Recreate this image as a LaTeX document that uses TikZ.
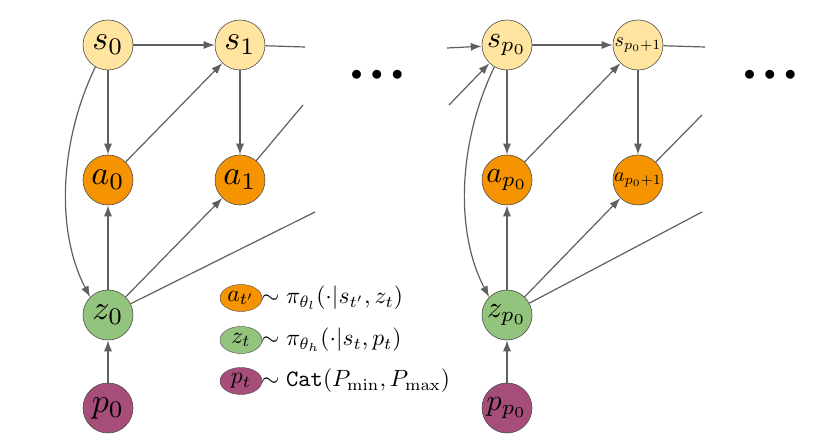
\documentclass[tikz,border=0pt]{standalone}
\usepackage{graphicx}
\usepackage{amsmath}
\usetikzlibrary{arrows.meta,shapes.geometric}
\definecolor{sc}{HTML}{FFE59F}
\definecolor{ac}{HTML}{F59300}
\definecolor{zc}{HTML}{93C47D}
\definecolor{pc}{HTML}{A64D79}
\definecolor{ec}{HTML}{5F5F5F}
\newcommand\Sk[2]{\scalebox{#1}{#2}}
\newcommand\Nb[1]{\Sk{3.4}{$#1$}}
\newcommand\Nm[1]{\Sk{3.0}{$#1$}}
\newcommand\Ns[1]{\Sk{2.0}{$#1$}}
\newcommand\Lg[1]{\Sk{2.35}{$#1$}}
\begin{document}
\begin{tikzpicture}[x=1pt,y=-1pt,
  v/.style={circle,draw=black!70,line width=0.6pt,minimum size=50pt,inner sep=0pt},
  e/.style={draw=ec,line width=1.2pt,-{Latex[length=11pt,width=8pt]}},
  l/.style={draw=ec,line width=1.2pt},
  lg/.style={ellipse,draw=black!70,minimum width=42pt,minimum height=27pt,inner sep=0pt},
  lt/.style={anchor=west,inner sep=0pt}]
\useasboundingbox (0,0) rectangle (828,443);
\node[v,fill=sc] (s0) at (108,45) {\Nb{s_0}};
\node[v,fill=sc] (s1) at (240,45) {\Nb{s_1}};
\node[v,fill=ac] (a0) at (108,180) {\Nb{a_0}};
\node[v,fill=ac] (a1) at (240,180) {\Nb{a_1}};
\node[v,fill=zc] (z0) at (108,315) {\Nb{z_0}};
\node[v,fill=pc] (p0) at (108,408) {\Nb{p_0}};
\coordinate (e1) at (305,47);
\coordinate (e2) at (303,105);
\coordinate (e3) at (315,212);
\draw[e] (s0) -- (s1);
\draw[e] (s0) -- (a0);
\draw[e] (s1) -- (a1);
\draw[e] (a0) -- (s1);
\draw[e] (z0) -- (a0);
\draw[e] (z0) -- (a1);
\draw[e] (p0) -- (z0);
\draw[l] (s1) -- (e1);
\draw[l] (a1) -- (e2);
\draw[l] (z0) -- (e3);
\draw[e] (s0.240) .. controls (60,140) and (55,230) .. (z0.135);
\node (d1) at (377,75) {\Sk{2.3}{$\bullet\,\bullet\,\bullet$}};
%
\node[v,fill=sc] (s2) at (507,45) {\Nm{s_{p_0}}};
\node[v,fill=sc] (s3) at (638,45) {\Ns{s_{p_0+1}}};
\node[v,fill=ac] (a2) at (507,180) {\Nm{a_{p_0}}};
\node[v,fill=ac] (a3) at (638,180) {\Ns{a_{p_0+1}}};
\node[v,fill=zc] (z2) at (507,315) {\Nm{z_{p_0}}};
\node[v,fill=pc] (p2) at (507,408) {\Nm{p_{p_0}}};
\coordinate (i1) at (447,48);
\coordinate (i2) at (449,105);
\coordinate (f1) at (705,47);
\coordinate (f2) at (702,115);
\coordinate (f3) at (702,212);
\draw[e] (i1) -- (s2);
\draw[e] (i2) -- (s2);
\draw[e] (s2) -- (s3);
\draw[e] (s2) -- (a2);
\draw[e] (s3) -- (a3);
\draw[e] (a2) -- (s3);
\draw[e] (z2) -- (a2);
\draw[e] (z2) -- (a3);
\draw[e] (p2) -- (z2);
\draw[l] (s3) -- (f1);
\draw[l] (a3) -- (f2);
\draw[l] (z2) -- (f3);
\draw[e] (s2.240) .. controls (459,140) and (454,230) .. (z2.135);
\node (d2) at (770,75) {\Sk{2.3}{$\bullet\,\bullet\,\bullet$}};
%
\node[lg,fill=ac] (la) at (241,298) {\Lg{a_{t'}}};
\node[lt] (ta) at (261,298) {\Lg{\sim \pi_{\theta_l}(\cdot|s_{t'},z_t)}};
\node[lg,fill=zc] (lz) at (241,340) {\Lg{z_t}};
\node[lt] (tz) at (261,340) {\Lg{\sim \pi_{\theta_h}(\cdot|s_t,p_t)}};
\node[lg,fill=pc] (lp) at (241,381) {\Lg{p_t}};
\node[lt] (tp) at (261,381) {\Lg{\sim \texttt{Cat}(P_{\min},P_{\max})}};
\end{tikzpicture}
\end{document}
